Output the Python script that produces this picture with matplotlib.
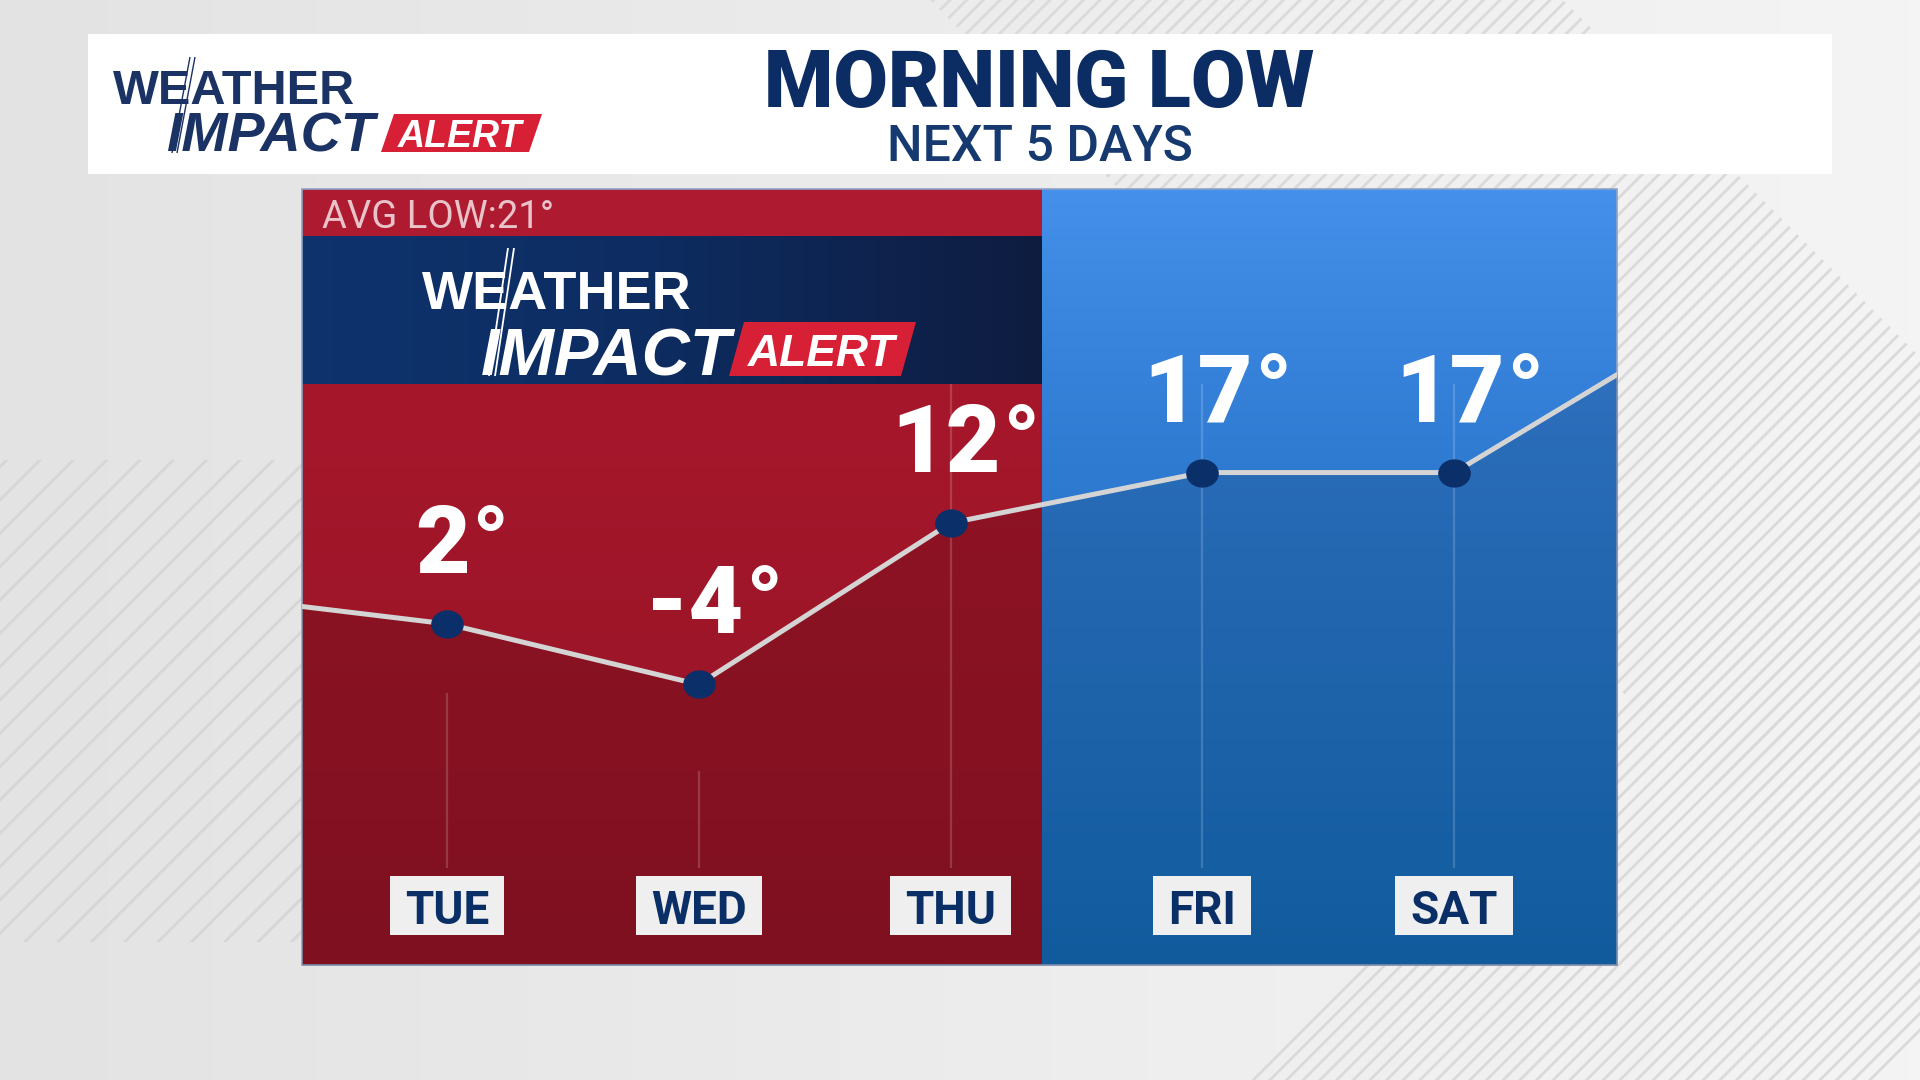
import numpy as np
import matplotlib
matplotlib.use("Agg")
import matplotlib.pyplot as plt
from matplotlib.colors import LinearSegmentedColormap
from matplotlib.patches import Polygon, Rectangle
from matplotlib.path import Path
from matplotlib.transforms import blended_transform_factory, IdentityTransform

# ---------------- data ----------------
days = ["TUE", "WED", "THU", "FRI", "SAT"]
lows = [2, -4, 12, 17, 17]
prev_day_low = 5      # day before TUE (line enters from the left edge)
next_day_low = 32     # day after SAT (line leaves through the right edge)
avg_low = 21
title = "MORNING LOW"
subtitle = "NEXT 5 DAYS"
avg_text = f"AVG LOW:{avg_low}°"

# ---------------- style ----------------
FONT = ["Roboto", "DejaVu Sans"]
LOGOF = ["Liberation Sans", "DejaVu Sans"]
NAVY = "#0B2D63"
plt.rcParams["hatch.linewidth"] = 2.0

W, H = 1920, 1080
PX0, PX1, PY0, PY1 = 302, 1617, 189, 965     # chart panel (pixels)
SPLIT = 1042                                  # red / blue boundary
NAVY_TOP, NAVY_BOT = 236, 384

fig = plt.figure(figsize=(19.2, 10.8), dpi=100)
bg = fig.add_axes([0, 0, 1, 1])
bg.axis("off")


def grad(ax, x0, x1, y0, y1, stops, horizontal=False, z=0):
    cmap = LinearSegmentedColormap.from_list("g", stops)
    g = np.linspace(0, 1, 256)
    arr = g[None, :] if horizontal else g[:, None]
    ax.imshow(arr, cmap=cmap, extent=[x0, x1, y1, y0], origin="upper",
              aspect="auto", interpolation="bilinear", zorder=z)


# page background
grad(bg, 0, W, 0, H, [(0, "#E3E3E3"), (0.6, "#EEEEEE"), (1, "#F4F4F4")], horizontal=True, z=0)
hatch_polys = [
    ([(0, 460), (330, 460), (330, 942), (0, 942)], "#D6D6D6", "/"),
    ([(930, 0), (1563, 0), (2643, 1080), (2010, 1080)], "#DADADA", "//"),
    ([(2330, 0), (2964, 0), (1884, 1080), (1250, 1080)], "#DADADA", "//"),
]
for pts, hc, hp in hatch_polys:
    bg.add_patch(Polygon(pts, closed=True, facecolor="none", edgecolor=hc,
                         lw=0, hatch=hp, zorder=1))

# header
bg.add_patch(Rectangle((88, 34), 1832 - 88, 174 - 34, facecolor="white", lw=0, zorder=2))
bg.text(1039, 107, title, fontsize=57, family=FONT, fontweight="black",
        color=NAVY, ha="center", va="baseline", zorder=3)
bg.text(1040, 161, subtitle, fontsize=36, family=FONT, fontweight="medium",
        color="#163A70", ha="center", va="baseline", zorder=3)


def logo(color, weather, impact, box, alert, slash):
    """WEATHER / IMPACT / ALERT wordmark."""
    wx, wy, wfs = weather
    bg.text(wx, wy, "WEATHER", fontsize=wfs, family=LOGOF, fontweight="bold",
            color=color, ha="left", va="baseline", zorder=4)
    ix, iy, ifs = impact
    bg.text(ix, iy, "IMPACT", fontsize=ifs, family=LOGOF, fontweight="bold",
            style="italic", color=color, ha="left", va="baseline", zorder=4)
    bx, btop, bw, bh, sl = box
    bg.add_patch(Polygon([(bx + sl, btop), (bx + sl + bw, btop),
                          (bx + bw, btop + bh), (bx, btop + bh)],
                         closed=True, facecolor="#D71F35", lw=0, zorder=4))
    ax_, ay_, afs = alert
    bg.text(ax_, ay_, "ALERT", fontsize=afs, family=LOGOF, fontweight="bold",
            style="italic", color="white", ha="left", va="baseline", zorder=5)
    (sx0, sy0), (sx1, sy1), gap, lw = slash
    for dx in (0, gap):
        bg.plot([sx0 + dx, sx1 + dx], [sy0, sy1], color=color, lw=lw,
                zorder=4, solid_capstyle="butt")


logo("#1B3264", (113, 104, 35), (166, 151, 40), (381, 114, 148, 38, 13),
     (398, 147, 27), ((190, 57), (172, 153), 5, 1.0))

# panel backgrounds
grad(bg, PX0, SPLIT, NAVY_BOT, PY1, [(0, "#A7172C"), (1, "#921324")], z=2)
bg.add_patch(Rectangle((PX0, PY0), SPLIT - PX0, NAVY_TOP - PY0, facecolor="#AE1A2F", lw=0, zorder=2))
grad(bg, PX0, SPLIT, NAVY_TOP, NAVY_BOT,
     [(0, "#0E336D"), (0.45, "#0D2D62"), (1, "#0F1C40")], horizontal=True, z=2)
grad(bg, SPLIT, PX1, PY0, PY1, [(0, "#4490EA"), (0.35, "#2F7BD2"), (1, "#1469B5")], z=2)
bg.add_patch(Rectangle((PX0, PY0), PX1 - PX0, PY1 - PY0, facecolor="none",
                       edgecolor="#8EA3C6", lw=1.2, zorder=3))
bg.text(322, 228, avg_text, fontsize=27.5, family=FONT, fontweight="normal",
        color="#E8C3C9", ha="left", va="baseline", zorder=3)
logo("white", (422, 309, 39), (481, 376, 48), (729, 322, 172, 54, 15),
     (748, 366, 32), ((508, 248), (489, 376), 6, 1.3))

bg.set_xlim(0, W)
bg.set_ylim(H, 0)

# ---------------- chart axes ----------------
ax = fig.add_axes([PX0 / W, (H - PY1) / H, (PX1 - PX0) / W, (PY1 - PY0) / H])
ax.patch.set_alpha(0)
ax.axis("off")
ax.set_xlim(-0.576, 4.647)
ax.set_ylim(-31.8, 45.1)

x = np.arange(len(days))
x_ext = np.concatenate([[-1], x, [len(days)]])
y_ext = np.array([prev_day_low] + lows + [next_day_low], dtype=float)

ax.fill_between(x_ext, y_ext, -60, color="black", alpha=0.13, lw=0, zorder=1)

blend = blended_transform_factory(ax.transData, ax.transAxes)
stem_tops = [0.350, 0.250, 0.749, 0.749, 0.749]
stem_bottom = 0.125
for xi, top in zip(x, stem_tops):
    ax.plot([xi, xi], [stem_bottom, top], transform=blend, color="white",
            alpha=0.17, lw=1.6, zorder=2, solid_capstyle="butt")

ax.plot(x_ext, y_ext, color="#D4D4D4", lw=3.6, zorder=3, solid_joinstyle="round")

circ = Path.unit_circle()
ellipse = Path(circ.vertices * np.array([1.0, 0.86]), circ.codes)
ax.plot(x, lows, ls="none", marker=ellipse, ms=22.5, color="#0B2F69",
        mec="#0B2F69", zorder=4)

for xi, v in zip(x, lows):
    t = ax.annotate(f"{v}", xy=(xi, v), xytext=(-3, 37), textcoords="offset points",
                    ha="center", va="baseline", fontsize=68, family=FONT,
                    fontweight="black", color="white", zorder=6)
    ax.annotate("°", xy=(1, 0), xycoords=t, xytext=(1, 0), textcoords="offset points",
                ha="left", va="bottom", fontsize=68, family=FONT,
                fontweight="black", color="white", zorder=6)

label_base = (PY1 - 924) / (PY1 - PY0)
day_texts = []
for xi, d in zip(x, days):
    day_texts.append(ax.text(xi, label_base, d, transform=blend, ha="center",
                             va="baseline", fontsize=33, family=FONT,
                             fontweight="bold", color="#0A2F66", zorder=7))

fig.canvas.draw()
r = fig.canvas.get_renderer()
for t in day_texts:
    bb = t.get_window_extent(r)
    pad = 15
    ax.add_patch(Rectangle((bb.x0 - pad, H - 935), bb.width + 2 * pad, 59,
                           transform=IdentityTransform(), facecolor="#EFEFEF",
                           lw=0, zorder=5, clip_on=False))

fig.savefig("out.png", dpi=100)
